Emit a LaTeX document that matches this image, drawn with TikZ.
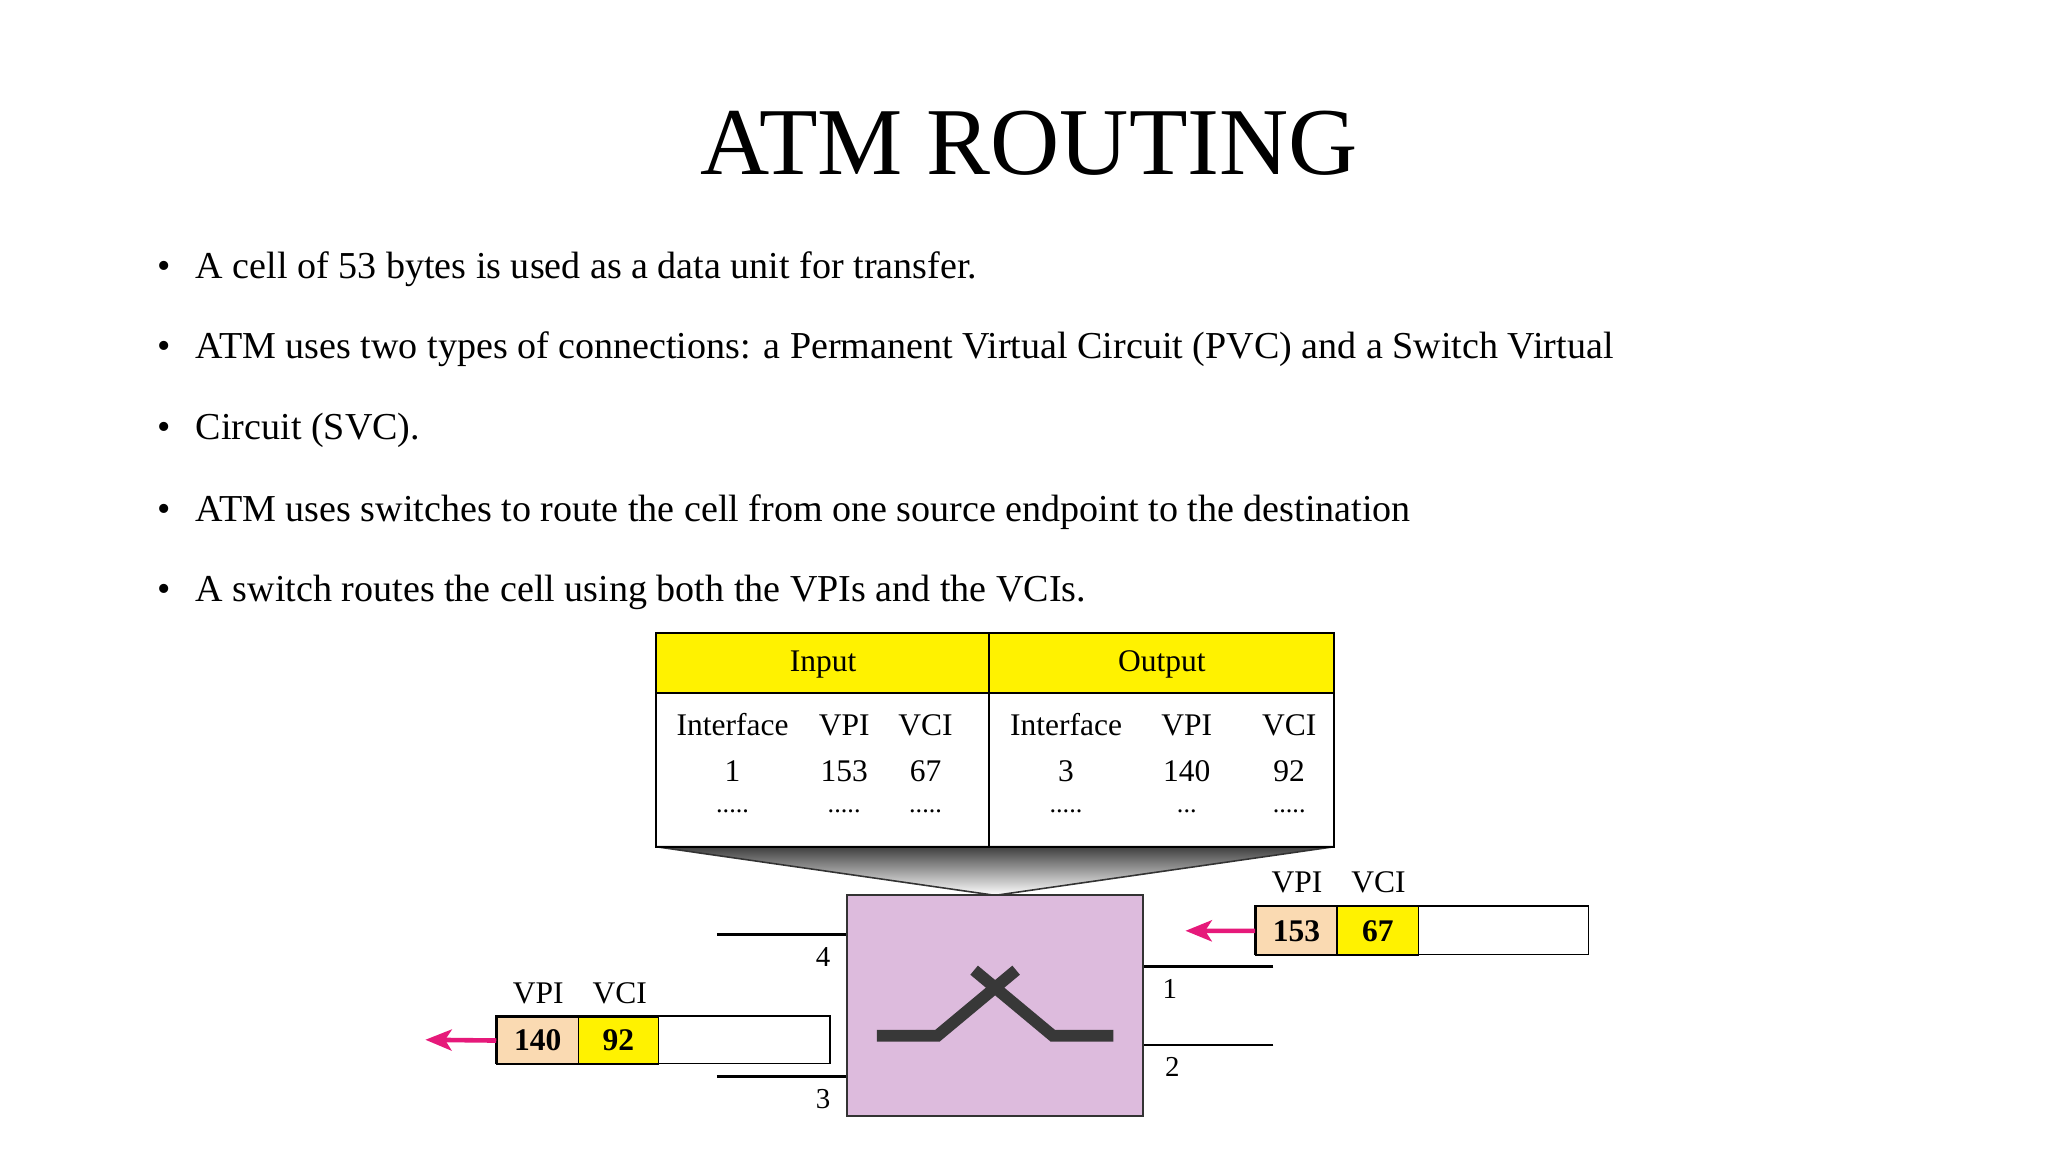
\documentclass[tikz,border=0pt]{standalone}
\usepackage{fontspec}
\setmainfont{Liberation Serif}
\usetikzlibrary{arrows.meta}
\begin{document}
\begin{tikzpicture}[x=1pt,y=-1pt,
  bul/.style={anchor=base west,font=\fontsize{29}{31}\selectfont,inner sep=0},
  tb/.style={font=\fontsize{24}{26}\selectfont,inner sep=0,anchor=base},
  cellnum/.style={font=\bfseries\fontsize{24}{26}\selectfont,inner sep=0},
  portlbl/.style={font=\fontsize{22}{24}\selectfont,inner sep=0},
  port/.style={line width=2pt},
  arr/.style={-{Stealth[length=20pt,width=16pt,inset=5pt]},line width=3.5pt,draw={rgb,255:red,230;green,25;blue,122},fill={rgb,255:red,230;green,25;blue,122}}]
\useasboundingbox (0,0) rectangle (1560,877.5);
\fill[white] (0,0) rectangle (1560,877.5);
\node[anchor=base,font=\fontsize{73}{78}\selectfont,inner sep=0] (title) at (784,133) {ATM ROUTING};
\foreach \y/\t [count=\i] in {212/{A cell of 53 bytes is used as a data unit for transfer.},
  273/{ATM uses two types of connections: a Permanent Virtual Circuit (PVC) and a Switch Virtual},
  335/{Circuit (SVC).},
  397/{ATM uses switches to route the cell from one source endpoint to the destination},
  458/{A switch routes the cell using both the VPIs and the VCIs.}}{
  \node[bul] (b\i) at (149,\y) {\t};
  \node[bul,anchor=base] (d\i) at (125,\y) {•};
}
% funnel
\shade[top color=black!75,bottom color=white,draw=black!80,line width=1.2pt] (500,645) -- (1016,645) -- (758,682) -- cycle;
% table
\fill[yellow] (500,482) rectangle (1016,528);
\draw[line width=1.5pt] (500,482) rectangle (1016,645) (500,528) -- (1016,528) (753,482) -- (753,645);
\node[tb,anchor=center] (hin) at (627,506) {Input};
\node[tb,anchor=center] (hout) at (885,506) {Output};
\foreach \x/\a/\b/\c [count=\i] in {558/Interface/1/{.....},643/VPI/153/{.....},705/VCI/67/{.....},812/Interface/3/{.....},904/VPI/140/{...},982/VCI/92/{.....}}{
  \node[tb] (h\i) at (\x,560) {\a};
  \node[tb] (v\i) at (\x,595) {\b};
  \node[tb,font=\fontsize{20}{22}\selectfont] (e\i) at (\x,619) {\c};
}
% switch
\node[draw=black!80,line width=1.5pt,fill={rgb,255:red,221;green,187;blue,221},minimum width=226pt,minimum height=168pt,inner sep=0] (sw) at (758,766) {};
\draw[line width=9pt,black!78] (668,789) -- (714,789) -- (774,739);
\draw[line width=9pt,black!78] (742,739) -- (802,789) -- (848,789);
% ports
\coordinate (p4) at (546,712); \coordinate (p3) at (546,820);
\coordinate (p1) at (970,736); \coordinate (p2) at (970,796);
\draw[port] (p4) -- (p4 -| sw.west);
\draw[port] (p3) -- (p3 -| sw.west);
\draw[port] (p1) -- (p1 -| sw.east);
\draw[port] (p2) -- (p2 -| sw.east);
\node[portlbl] (l4) at (627,729) {4};
\node[portlbl] (l3) at (627,837) {3};
\node[portlbl] (l1) at (891,753) {1};
\node[portlbl] (l2) at (893,813) {2};
% right cell
\draw[line width=1.2pt] (956,690) rectangle (1210,727);
\node[draw,line width=1.2pt,fill={rgb,255:red,250;green,218;blue,178},minimum width=62pt,minimum height=37pt,anchor=north west,cellnum] (rc1) at (956,690) {153};
\node[draw,line width=1.2pt,fill=yellow,minimum width=62pt,minimum height=37pt,anchor=north west,cellnum] (rc2) at (1018,690) {67};
\node[tb] (rvpi) at (988,680) {VPI};
\node[tb] (rvci) at (1050,680) {VCI};
\coordinate (ra) at (903,709);
\draw[arr] (rc1.west) -- (ra);
% left cell
\draw[line width=1.2pt] (378,774) rectangle (632,810);
\node[draw,line width=1.2pt,fill={rgb,255:red,250;green,218;blue,178},minimum width=62pt,minimum height=36pt,anchor=north west,cellnum] (lc1) at (378,774) {140};
\node[draw,line width=1.2pt,fill=yellow,minimum width=61pt,minimum height=36pt,anchor=north west,cellnum] (lc2) at (440,774) {92};
\node[tb] (lvpi) at (410,764) {VPI};
\node[tb] (lvci) at (472,764) {VCI};
\coordinate (la) at (324,792);
\draw[arr] (lc1.west) -- (la);
\end{tikzpicture}
\end{document}
